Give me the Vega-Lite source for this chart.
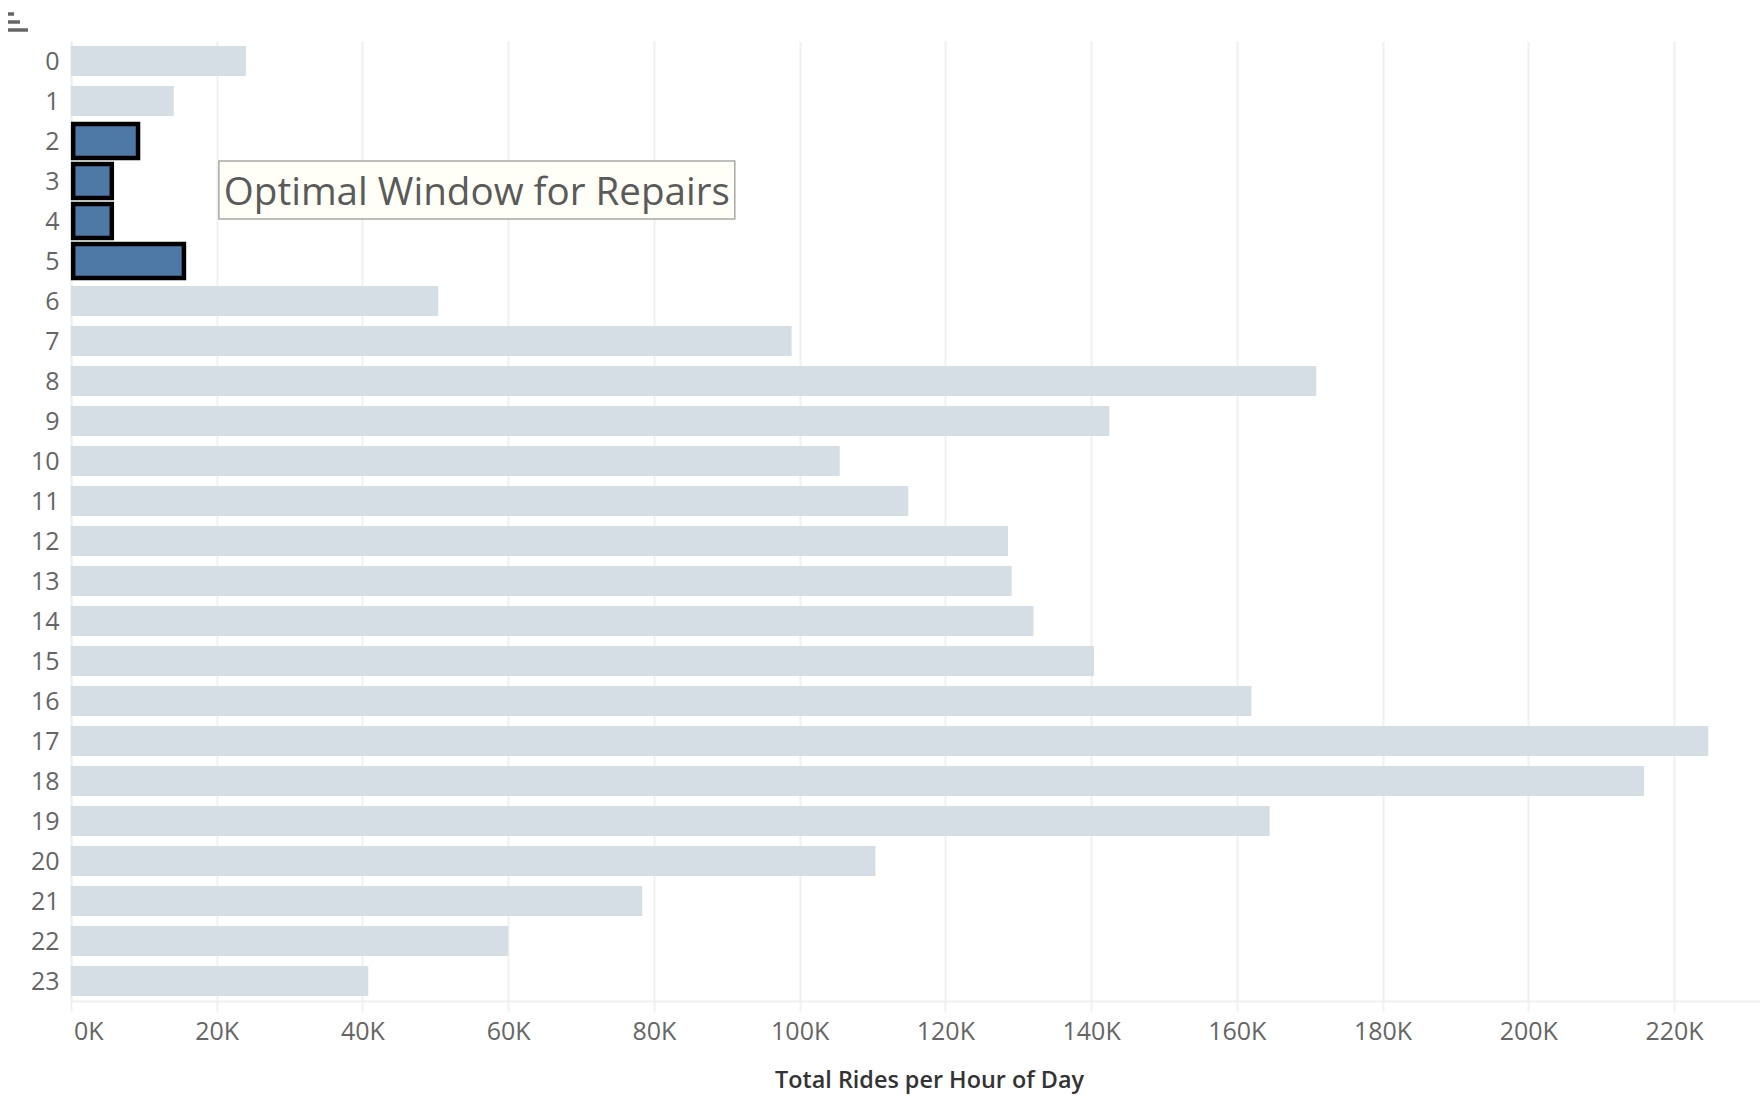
{
"$schema":"https://vega.github.io/schema/vega-lite/v6.json",
"width":1689,"height":960,
"autosize":"none",
"padding":{"left":71,"top":41,"right":0,"bottom":105},
"background":"#ffffff",
"config":{"view":{"stroke":null},"font":"Open Sans"},
"datasets":{
"rides":[
{"hour":0,"rides":24.0,"window":"no"},{"hour":1,"rides":14.1,"window":"no"},{"hour":2,"rides":9.2,"window":"yes"},{"hour":3,"rides":5.6,"window":"yes"},{"hour":4,"rides":5.6,"window":"yes"},{"hour":5,"rides":15.5,"window":"yes"},{"hour":6,"rides":50.4,"window":"no"},{"hour":7,"rides":98.9,"window":"no"},{"hour":8,"rides":170.9,"window":"no"},{"hour":9,"rides":142.5,"window":"no"},{"hour":10,"rides":105.5,"window":"no"},{"hour":11,"rides":114.9,"window":"no"},{"hour":12,"rides":128.6,"window":"no"},{"hour":13,"rides":129.1,"window":"no"},{"hour":14,"rides":132.1,"window":"no"},{"hour":15,"rides":140.4,"window":"no"},{"hour":16,"rides":162.0,"window":"no"},{"hour":17,"rides":224.7,"window":"no"},{"hour":18,"rides":215.9,"window":"no"},{"hour":19,"rides":164.5,"window":"no"},{"hour":20,"rides":110.4,"window":"no"},{"hour":21,"rides":78.4,"window":"no"},{"hour":22,"rides":60.0,"window":"no"},{"hour":23,"rides":40.8,"window":"no"}],
"note":[{"hour":3,"from":20.3,"to":91.1,"mid":55.7,"label":"Optimal Window for Repairs"}],
"icon":[{"rank":1,"start":0,"len":6},{"rank":2,"start":0,"len":12},{"rank":3,"start":0,"len":20}]
},
"layer":[
{"layer":[
{"data":{"name":"rides"},"transform":[{"filter":"datum.window=='no'"}],"mark":{"type":"bar","fill":"#d5dde5"},
"encoding":{
"y":{"field":"hour","type":"ordinal","sort":"ascending","scale":{"paddingInner":0.25,"paddingOuter":0.125},"axis":{"title":null,"ticks":false,"labelAngle":0,"labelFontSize":25,"labelColor":"#666666","labelPadding":12,"labelOffset":1,"domainColor":"#f0f0f0","domainWidth":2,"grid":false,"labelFont":"Open Sans"}},
"x":{"field":"rides","type":"quantitative","scale":{"domain":[0,231.8],"nice":false},"axis":{"title":"Total Rides per Hour of Day","titleX":858,"titleY":79,"titleBaseline":"middle","titleFontSize":23.4,"titleFontWeight":600,"titleColor":"#333333","values":[0,20,40,60,80,100,120,140,160,180,200,220],"labelExpr":"datum.value+'K'","labelFontSize":25,"labelColor":"#666666","labelPadding":8,"labelFlush":true,"labelFlushOffset":-2.5,"tickColor":"#f0f0f0","tickWidth":2,"tickSize":10,"domainColor":"#f0f0f0","domainWidth":2,"grid":true,"gridColor":"#f0f0f0","gridWidth":2}}
}},
{"data":{"name":"rides"},"transform":[{"filter":"datum.window=='yes'"}],"mark":{"type":"bar","fill":"#4e79a7","stroke":"#000000","strokeWidth":4.5,"size":34},
"encoding":{
"y":{"field":"hour","type":"ordinal"},
"x":{"field":"rides","type":"quantitative"},
"x2":{"datum":0.3}
}},
{"data":{"name":"note"},"mark":{"type":"bar","fill":"#fffff8","stroke":"#a9a9a9","strokeWidth":1.5,"size":58,"yOffset":9},
"encoding":{
"y":{"field":"hour","type":"ordinal"},
"x":{"field":"from","type":"quantitative"},
"x2":{"field":"to"}
}},
{"data":{"name":"note"},"mark":{"type":"text","fontSize":38.6,"color":"#5a5a5a","align":"center","baseline":"middle","yOffset":12,"font":"Open Sans"},
"encoding":{
"y":{"field":"hour","type":"ordinal"},
"x":{"field":"mid","type":"quantitative"},
"text":{"field":"label"}
}}
]},
{"data":{"name":"icon"},"mark":{"type":"rule","color":"#666666","strokeWidth":3.5,"clip":false},
"encoding":{
"y":{"field":"rank","type":"quantitative","scale":{"domain":[1,3],"range":[-27,-11]},"axis":null},
"x":{"field":"start","type":"quantitative","scale":{"domain":[0,20],"range":[-63,-43]},"axis":null},
"x2":{"field":"len"}
}}
],
"resolve":{"scale":{"x":"independent","y":"independent"},"axis":{"x":"independent","y":"independent"}}
}
